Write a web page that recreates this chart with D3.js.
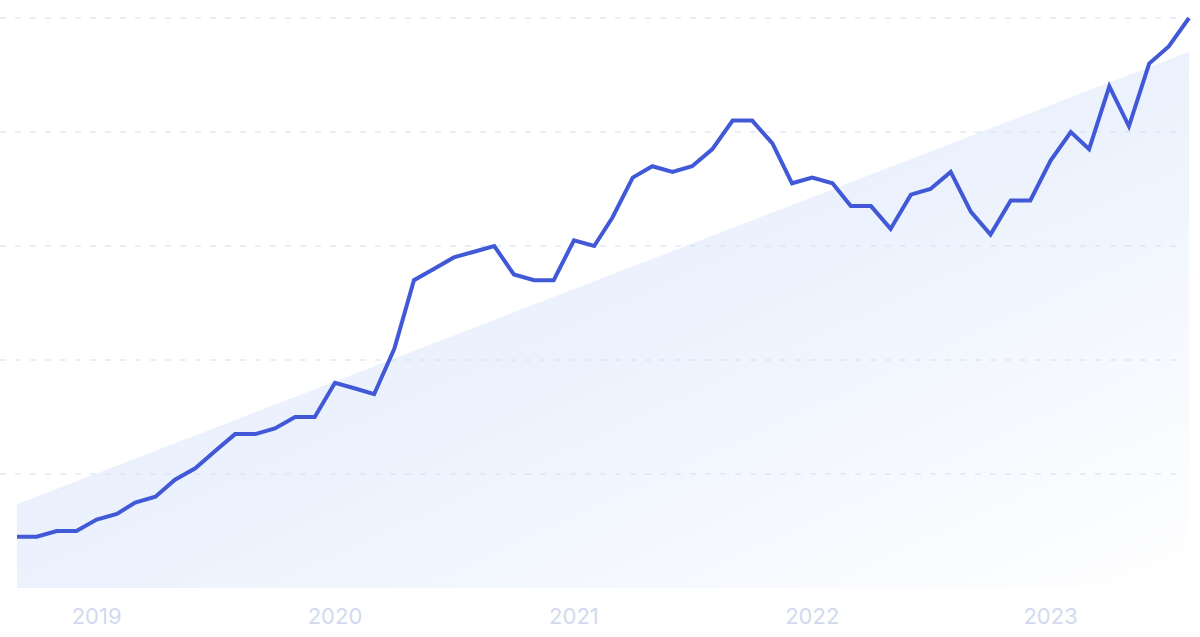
<!DOCTYPE html>
<html>
<head>
<meta charset="utf-8">
<script src="https://cdn.jsdelivr.net/npm/d3@7"></script>
<style>
  html, body { margin: 0; padding: 0; background: #fff; }
  svg { display: block; }
  .tick-label { font-family: Inter, "Noto Sans", sans-serif; font-size: 22px; fill: #d3d9ef; }
</style>
</head>
<body>
<svg class="main-svg" width="1200" height="637"></svg>
<script>
// monthly values, Sep 2018 .. Aug 2023
const startMonth = new Date(2018, 8, 1)
const values = [
  9, 9, 10, 10, 12, 13, 15, 16, 19, 21,
  24, 27, 27, 28, 30, 30, 36, 35, 34, 42,
  54, 56, 58, 59, 60, 55, 54, 54, 61, 60,
  65, 72, 74, 73, 74, 77, 82, 82, 78, 71,
  72, 71, 67, 67, 63, 69, 70, 73, 66, 62,
  68, 68, 75, 80, 77, 88, 81, 92, 95, 100
]
// trend line end values (start, end)
const trendValues = [14.7, 94.1]
const gridValues = [20, 40, 60, 80, 100]
const yearLabels = ['2019', '2020', '2021', '2022', '2023']

const data = values.map((v, i) => ({ date: d3.timeMonth.offset(startMonth, i), value: v }))

const svg = d3.select('.main-svg')

const x = d3.scaleTime()
  .domain(d3.extent(data, d => d.date))
  .range([17, 1189])

const y = d3.scaleLinear()
  .domain([0, 100])
  .range([588, 18])

// gradient for trend area
const defs = svg.append('defs')
const grad = defs.append('linearGradient')
  .attr('id', 'trend-grad')
  .attr('x1', '0').attr('y1', '0')
  .attr('x2', '1').attr('y2', '1')
grad.append('stop').attr('offset', '0%').attr('stop-color', '#e0e9fb')
grad.append('stop').attr('offset', '55%').attr('stop-color', '#edf3fd')
grad.append('stop').attr('offset', '100%').attr('stop-color', '#ffffff')

// trend area
const first = data[0].date
const last = data[data.length - 1].date
const trend = [
  { date: first, value: trendValues[0] },
  { date: last, value: trendValues[1] }
]
svg.append('path')
  .datum(trend)
  .attr('d', d3.area().x(d => x(d.date)).y0(y(0)).y1(d => y(d.value)))
  .attr('fill', 'url(#trend-grad)')

// dashed gridlines
svg.append('g')
  .selectAll('line')
  .data(gridValues)
  .enter()
  .append('line')
  .attr('x1', 0)
  .attr('x2', 1183)
  .attr('y1', d => y(d))
  .attr('y2', d => y(d))
  .attr('stroke', '#d5ddf4')
  .attr('stroke-width', 1.2)
  .attr('stroke-dasharray', '6,9')

// year labels
svg.append('g')
  .selectAll('text')
  .data(yearLabels)
  .enter()
  .append('text')
  .attr('class', 'tick-label')
  .attr('x', d => x(new Date(+d, 0, 1)))
  .attr('y', 624)
  .attr('text-anchor', 'middle')
  .text(d => d)

// main line
svg.append('path')
  .datum(data)
  .attr('d', d3.line().x(d => x(d.date)).y(d => y(d.value)))
  .attr('fill', 'none')
  .attr('stroke', '#4159d6')
  .attr('stroke-width', 4)
  .attr('stroke-linejoin', 'miter')
  .attr('stroke-linecap', 'butt')
</script>
</body>
</html>
